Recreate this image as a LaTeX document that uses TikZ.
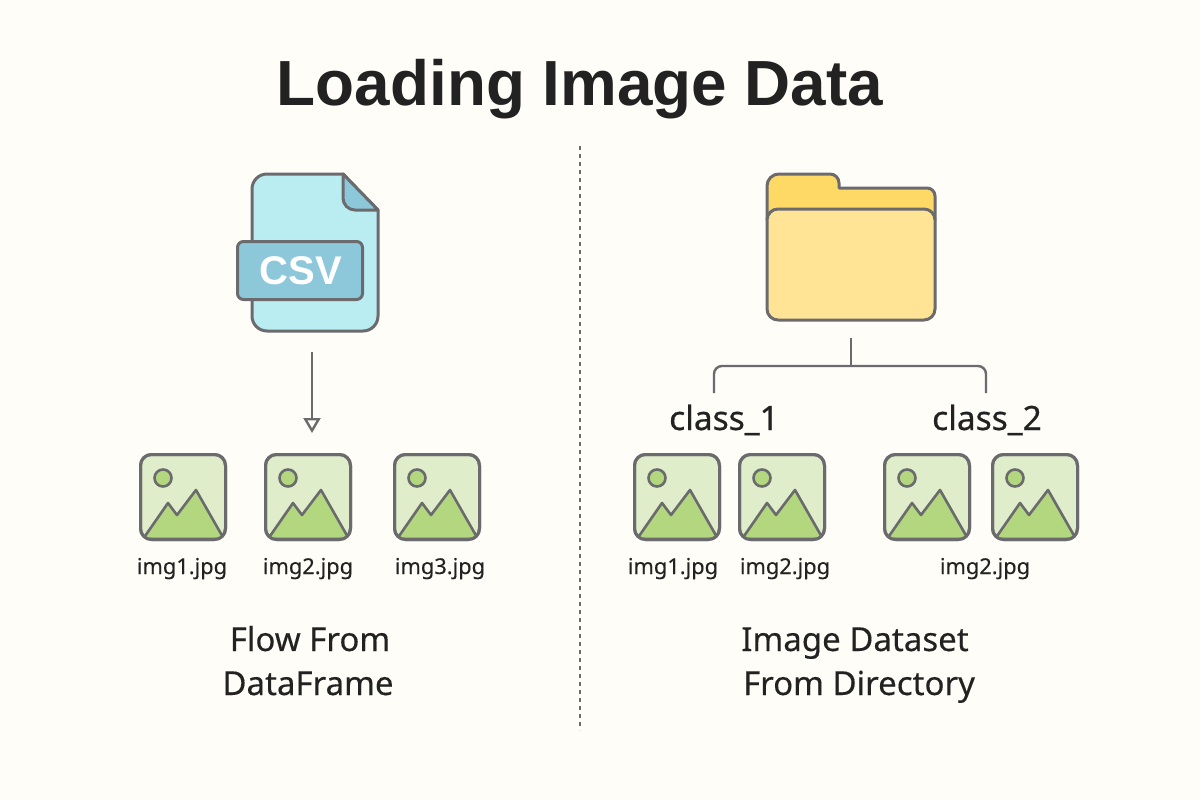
\documentclass[tikz,border=0pt]{standalone}
\usepackage{fontspec}
\setmainfont{Noto Sans}
\newfontfamily\headfont{Liberation Sans}
\newfontfamily\lightbold{Noto Sans}[FakeBold=0.3]
\newfontfamily\midbold{Noto Sans}[FakeBold=0.6]
\usetikzlibrary{arrows.meta}
\definecolor{bgc}{HTML}{FEFDF8}
\definecolor{ink}{HTML}{222222}
\definecolor{stroke}{HTML}{6B6B6E}
\definecolor{filec}{HTML}{B9EDF2}
\definecolor{labelc}{HTML}{8DC8DA}
\definecolor{photoc}{HTML}{DFEDCB}
\definecolor{hillc}{HTML}{B3D77F}
\definecolor{foldback}{HTML}{FFD966}
\definecolor{foldfront}{HTML}{FFE495}
\tikzset{
  x=1pt,y=-1pt,
  outline/.style={draw=stroke,line width=3pt,line join=round},
  thinline/.style={draw=stroke,line width=2.4pt},
  filename/.style={font=\lightbold\fontsize{21.8}{24}\selectfont,text=ink,inner sep=0pt,anchor=base},
  caption/.style={font=\lightbold\fontsize{33}{44}\selectfont,text=ink,inner sep=0pt,anchor=base},
  classlabel/.style={font=\midbold\fontsize{33.5}{36}\selectfont,text=ink,inner sep=0pt,anchor=base},
  pics/photo/.style={code={
    \draw[outline,fill=photoc,rounded corners=11pt] (0.5,0.5) rectangle (85.5,85.5);
    \begin{scope}
      \clip[rounded corners=11pt] (0.5,0.5) rectangle (85.5,85.5);
      \draw[outline,fill=hillc,line width=2.6pt] (3,85) -- (28,49) -- (37,61) -- (56,36) -- (84,85) -- cycle;
    \end{scope}
    \draw[outline,rounded corners=11pt] (0.5,0.5) rectangle (85.5,85.5);
    \draw[outline,fill=hillc,line width=2.6pt] (23,24) circle (8.5);
  }}
}
\begin{document}
\begin{tikzpicture}
\useasboundingbox[fill=bgc] (0,0) rectangle (1200,800);
\node[inner sep=0pt,text=ink,anchor=base] (title) at (580,106) {\headfont\fontsize{63.8}{68}\selectfont\bfseries Loading Image Data};
\coordinate (divtop) at (580,146);
\coordinate (divbot) at (580,730);
\draw[draw=stroke,line width=1.6pt,dash pattern=on 4pt off 4pt] (divtop) -- (divbot);

% CSV file
\draw[outline,fill=filec] (343,174) -- (378,210) -- (378,316) arc[start angle=0,end angle=90,radius=15] -- (267,331) arc[start angle=90,end angle=180,radius=15] -- (252,189) arc[start angle=180,end angle=270,radius=15] -- cycle;
\draw[outline,fill=labelc] (343,174) -- (378,210) -- (355,210) arc[start angle=90,end angle=180,radius=12] -- cycle;
\node[outline,fill=labelc,rounded corners=6pt,minimum width=125pt,minimum height=58pt,inner sep=0pt,text=white,font=\headfont\fontsize{40}{42}\selectfont\bfseries] (csv) at (300,270.5) {\hspace{2pt}CSV};
\coordinate (arrowa) at (312,352);
\coordinate (arrowb) at (312,433);
\draw[thinline,-{Triangle[open,length=15pt,width=17pt,line width=2.4pt]}] (arrowa) -- (arrowb);

% Left photos
\pic at (140,454) {photo};
\pic at (265,454) {photo};
\pic at (394,454) {photo};
\node[filename] (l1) at (182,574) {img1.jpg};
\node[filename] (l2) at (308,574) {img2.jpg};
\node[filename] (l3) at (440,574) {img3.jpg};
\node[caption] (capl1) at (310,651) {Flow From};
\node[caption] (capl2) at (308,695) {DataFrame};

% Folder
\draw[outline,fill=foldback] (767,220) -- (767,186) arc[start angle=180,end angle=270,radius=12] -- (830,174) arc[start angle=-90,end angle=0,radius=9] -- (839,188) -- (927,188) arc[start angle=-90,end angle=0,radius=8] -- (935,220) -- cycle;
\draw[outline,fill=foldfront,rounded corners=11pt] (767,209) rectangle (935,320);
\coordinate (trunka) at (851,338);
\coordinate (trunkb) at (851,366);
\coordinate (leafl) at (714,393);
\coordinate (leafr) at (986,393);
\draw[thinline] (trunka) -- (trunkb);
\draw[thinline,rounded corners=8pt] (leafl) -- (714,366) -- (986,366) -- (leafr);
\node[classlabel] (c1) at (724,430) {class\_1};
\node[classlabel] (c2) at (987,430) {class\_2};

% Right photos
\pic at (634,454) {photo};
\pic at (739,454) {photo};
\pic at (884,454) {photo};
\pic at (992,454) {photo};
\node[filename] (r1) at (673,574) {img1.jpg};
\node[filename] (r2) at (785,574) {img2.jpg};
\node[filename] (r3) at (985,574) {img2.jpg};
\node[caption] (capr1) at (855,651) {Image Dataset};
\node[caption] (capr2) at (859,695) {From Directory};
\end{tikzpicture}
\end{document}
